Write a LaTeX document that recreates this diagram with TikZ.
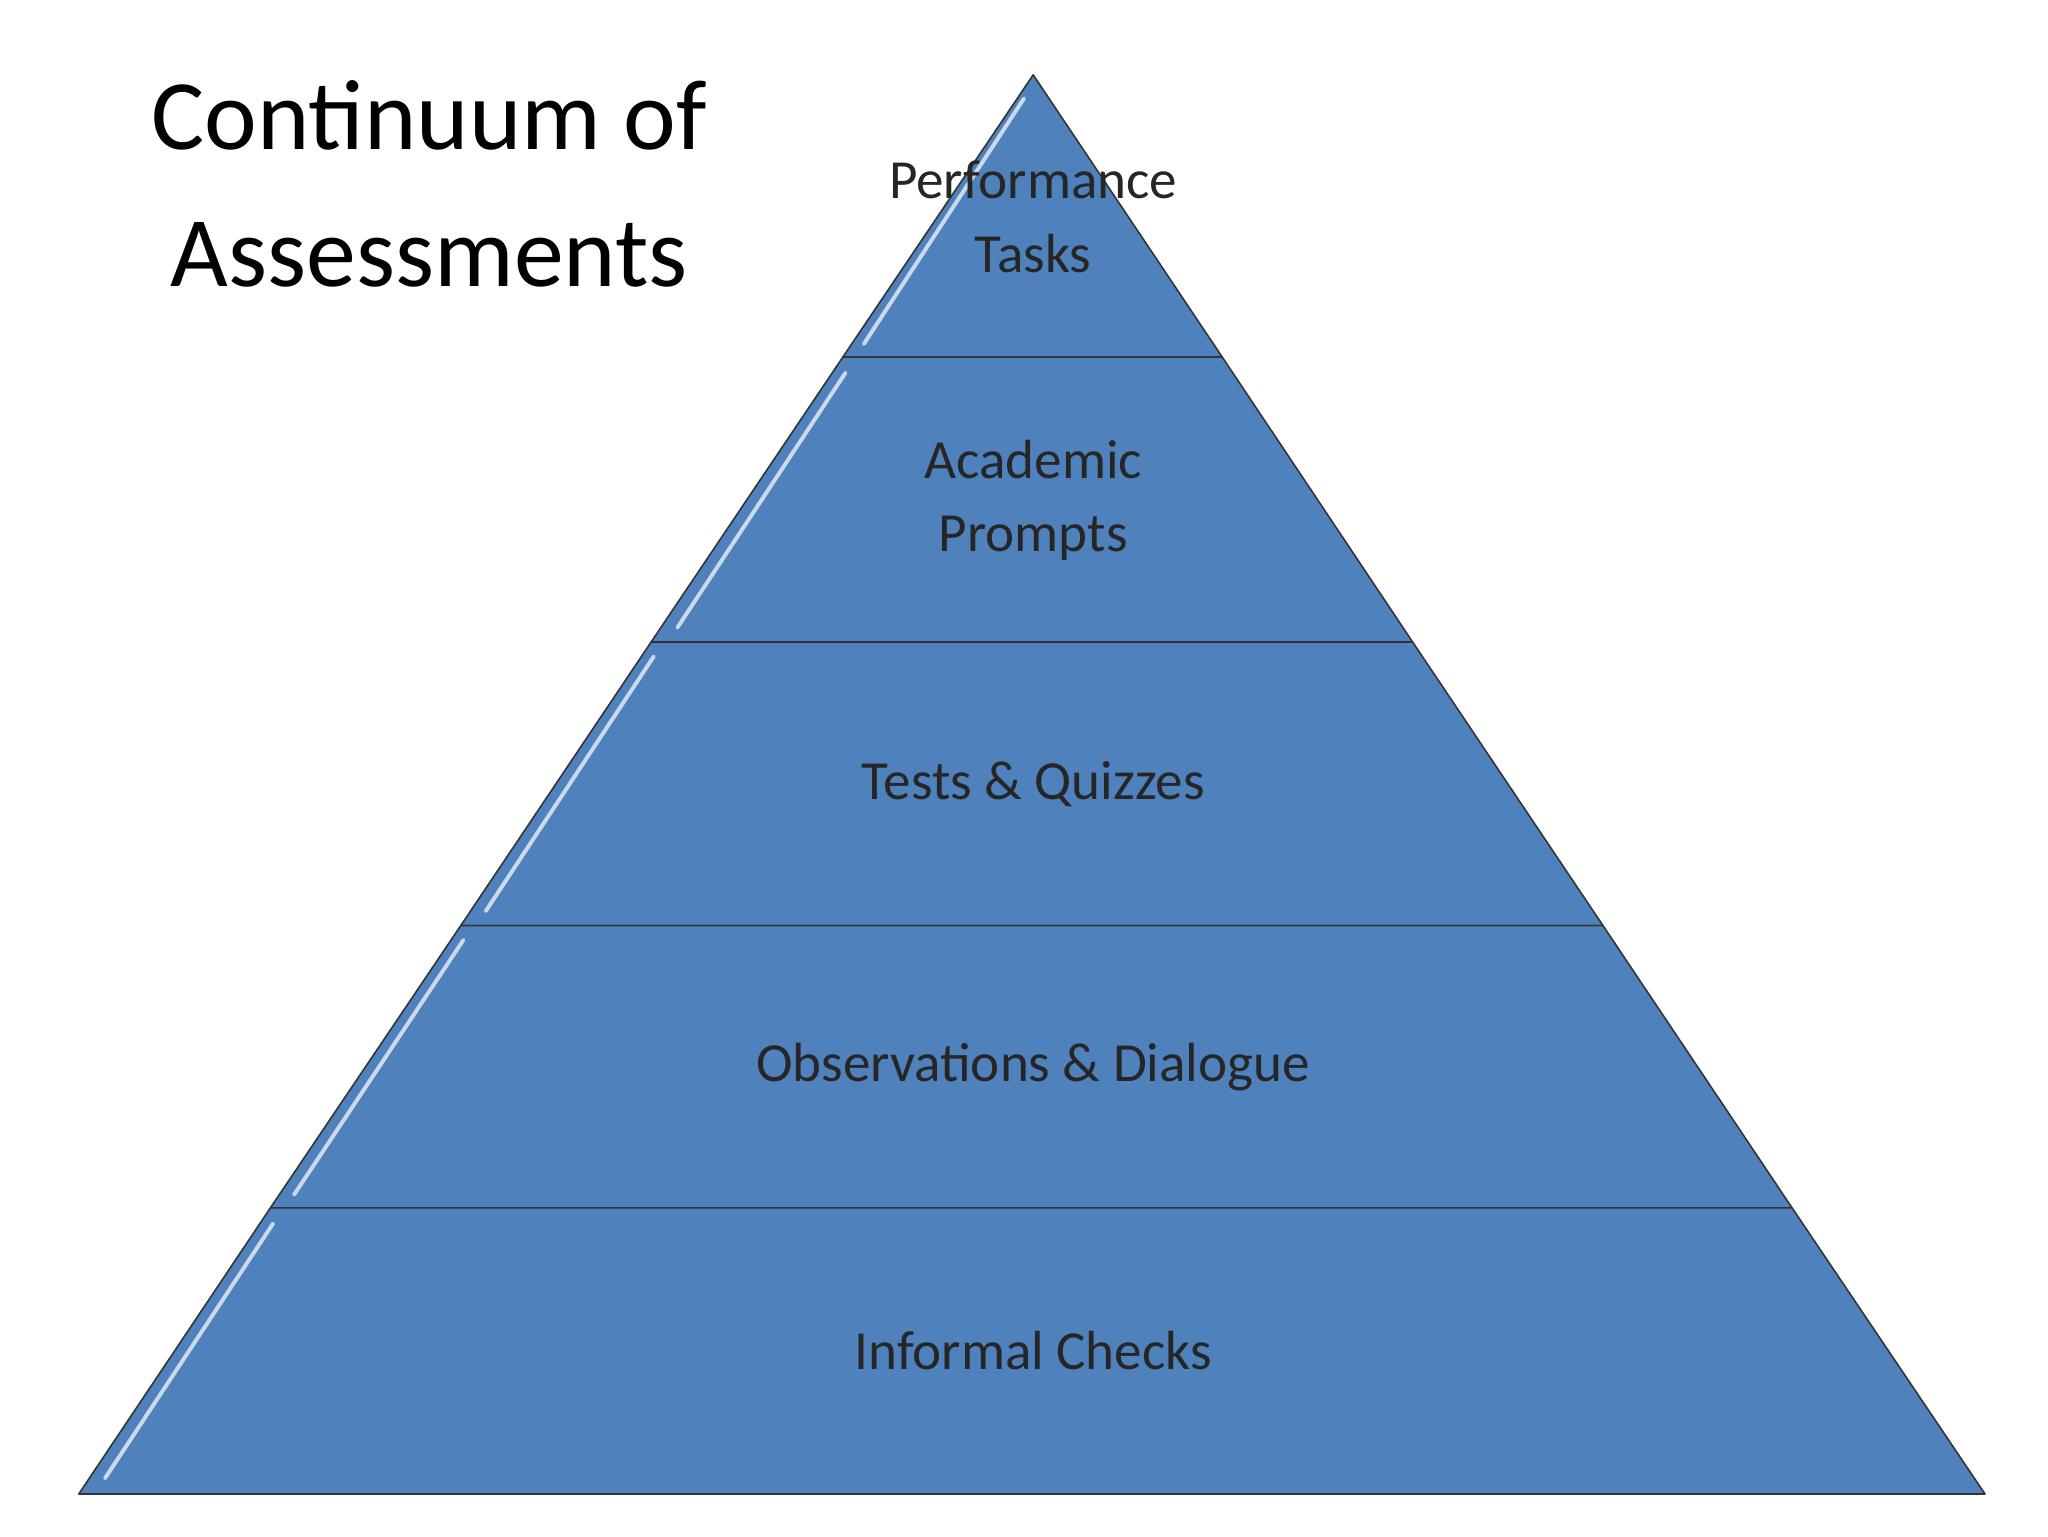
\documentclass[tikz,border=0pt]{standalone}
\usepackage{fontspec}
\setmainfont{Carlito}
\begin{document}
\begin{tikzpicture}[x=1pt,y=-1pt,
  band/.style={fill=pyr,draw=black!80,line width=1.2pt,line join=round},
  hl/.style={draw=white!70!pyr,line width=3pt,line cap=round},
  lbl/.style={font=\fontsize{42}{56}\selectfont,align=center,text=black!85}]
\definecolor{pyr}{HTML}{4F81BD}
\useasboundingbox (0,0) rectangle (1560,1170);
\fill[white] (0,0) rectangle (1560,1170);
% bands
\draw[band] (787,57) -- (931,272) -- (642,272) -- cycle;
\draw[band] (642,272) -- (931,272) -- (1076,489) -- (496,489) -- cycle;
\draw[band] (496,489) -- (1076,489) -- (1221,705) -- (351,705) -- cycle;
\draw[band] (351,705) -- (1221,705) -- (1365,920) -- (206,920) -- cycle;
\draw[band] (206,920) -- (1365,920) -- (1512,1138) -- (60,1138) -- cycle;
% highlights
\draw[hl] (780,75) -- (658,262);
\draw[hl] (644,284) -- (516,478);
\draw[hl] (498,500) -- (370,694);
\draw[hl] (353,716) -- (224,910);
\draw[hl] (208,932) -- (80,1126);
% labels
\node[lbl] (pt) at (787,165) {Performance\\Tasks};
\node[lbl] (ap) at (787,381) {Academic\\Prompts};
\node[lbl] (tq) at (787,597) {Tests \& Quizzes};
\node[lbl] (od) at (787,813) {Observations \& Dialogue};
\node[lbl] (ic) at (787,1029) {Informal Checks};
\node[font=\fontsize{76}{104}\selectfont,align=center] (title) at (327,140) {Continuum of\\Assessments};
\end{tikzpicture}
\end{document}
